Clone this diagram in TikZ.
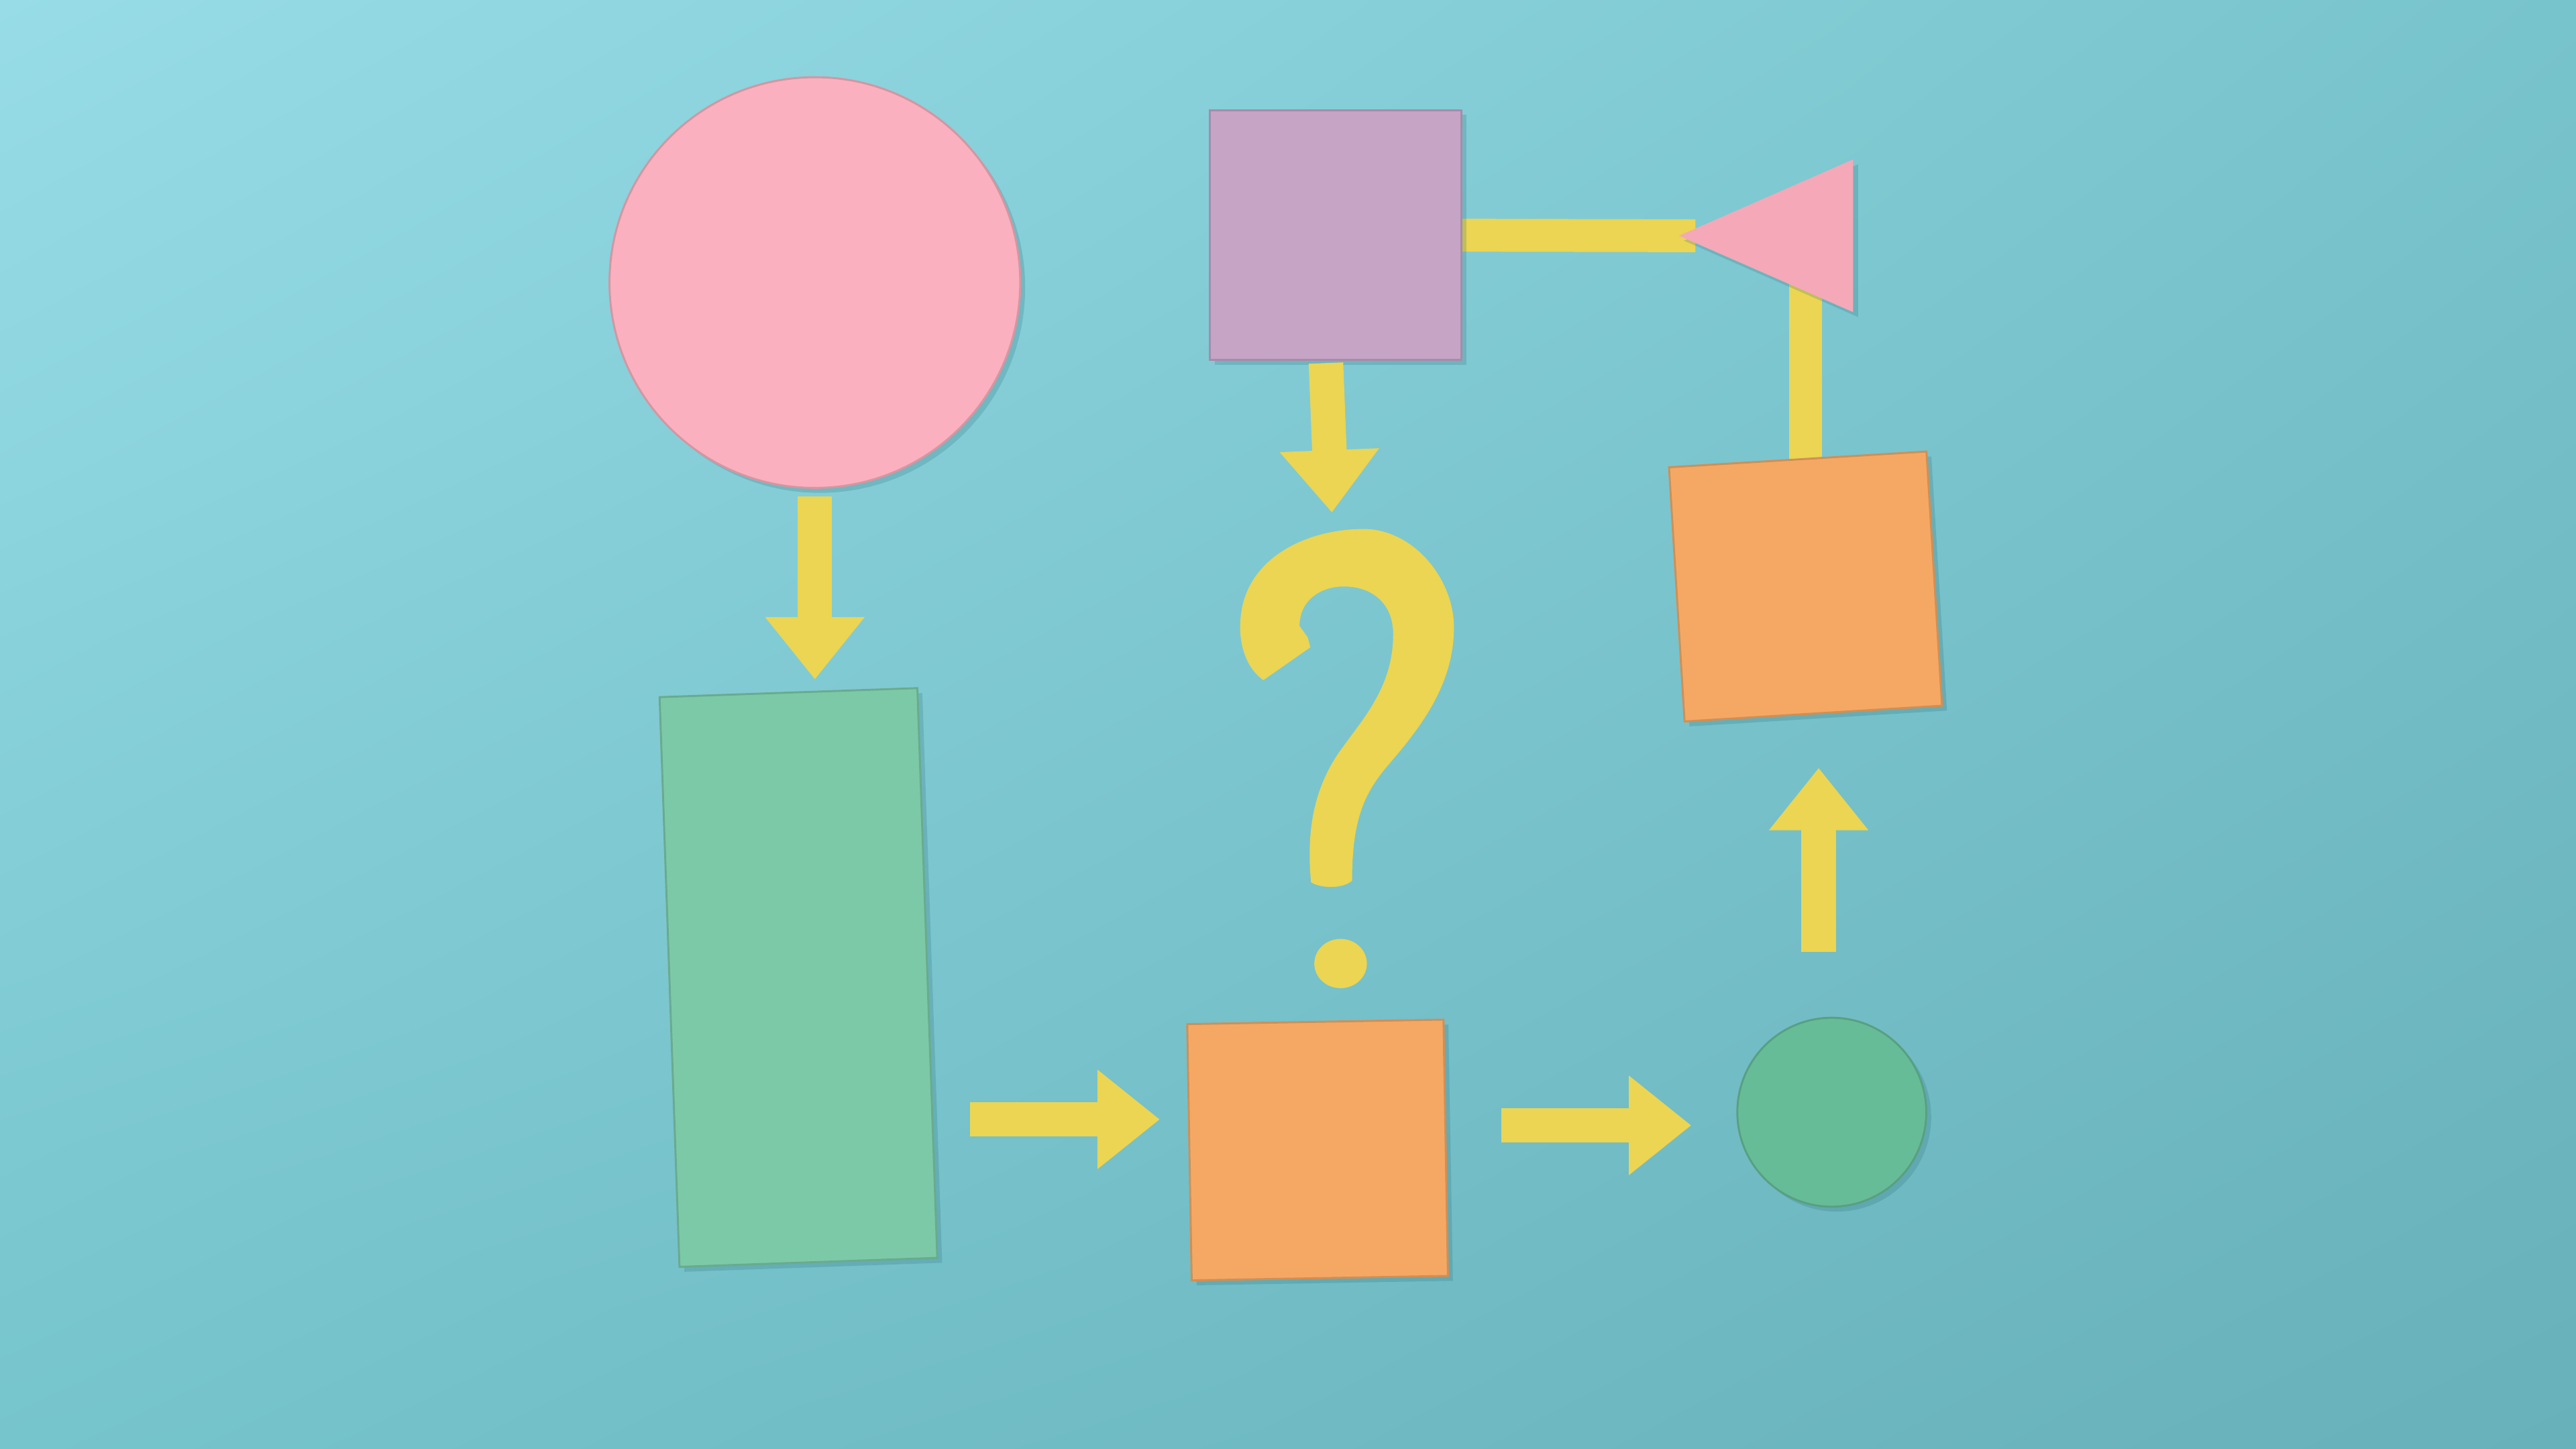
\documentclass[tikz,border=0pt]{standalone}
\usetikzlibrary{arrows.meta,shadows,shadings}
\pgfdeclarelayer{back}
\pgfdeclarelayer{mid}
\pgfsetlayers{back,mid,main}
\definecolor{bgTL}{RGB}{151,220,231}
\definecolor{bgTR}{RGB}{120,196,204}
\definecolor{bgBL}{RGB}{118,196,204}
\definecolor{bgBR}{RGB}{104,176,186}
\definecolor{paperY}{RGB}{235,213,82}
\definecolor{pinkC}{RGB}{250,176,190}
\definecolor{pinkT}{RGB}{244,168,184}
\definecolor{lilac}{RGB}{197,164,198}
\definecolor{orangeP}{RGB}{245,168,100}
\definecolor{greenR}{RGB}{124,201,167}
\definecolor{greenC}{RGB}{103,188,152}
\definecolor{shadowc}{RGB}{40,110,120}
\tikzset{
  softshadow/.style={drop shadow={shadow xshift=3pt, shadow yshift=-3pt, opacity=0.22, fill=shadowc}},
  paper/.style={inner sep=0pt, outer sep=0pt, fill=#1, draw=#1!85!black, line width=1.2pt, softshadow},
  conn/.style={draw=paperY, line width=21pt, -{Triangle[width=58pt, length=38pt]}},
  bar/.style={draw=paperY, line width=20pt}
}
\begin{document}
\begin{tikzpicture}[x=1pt,y=-1pt]
\useasboundingbox (0,0) rectangle (1568,882);
\begin{pgfonlayer}{back}
\shade[upper left=bgTL, upper right=bgTR, lower left=bgBL, lower right=bgBR] (0,0) rectangle (1568,882);
\end{pgfonlayer}

% shapes
\node[paper=pinkC, circle, minimum size=250pt] (start) at (496,172) {};
\node[paper=lilac, rectangle, minimum width=153pt, minimum height=152pt] (proc) at (813,143) {};
\node[paper=greenR, rectangle, minimum width=157pt, minimum height=347pt, rotate=2] (grect) at (486,595) {};
\node[paper=orangeP, rectangle, minimum width=156pt, minimum height=156pt, rotate=1] (borange) at (802,700) {};
\node[paper=orangeP, rectangle, minimum width=157pt, minimum height=155pt, rotate=3.5] (torange) at (1099,357) {};
\node[paper=greenC, circle, minimum size=115pt] (end) at (1115,677) {};
\node[inner sep=0pt, outer sep=0pt, minimum width=106pt, minimum height=93pt] (tri) at (1075,143.5) {};
\fill[pinkT, softshadow] (tri.west) -- (tri.north east) -- (tri.south east) -- cycle;

% question mark (paper cut-out)
\node[inner sep=0pt, outer sep=0pt, minimum width=132pt, minimum height=283pt] (qm) at (819,461.5) {};
\fill[paperY]
  (769,414) .. controls (759,407) and (754,393) .. (755,378)
  .. controls (757,340) and (795,322) .. (830,322)
  .. controls (860,322) and (885,352) .. (885,382)
  .. controls (885,420) and (860,448) .. (843,468)
  .. controls (830,484) and (823,500) .. (823,536)
  .. controls (818,541) and (804,541) .. (798,537)
  .. controls (795,505) and (800,480) .. (815,458)
  .. controls (830,437) and (848,418) .. (848,386)
  .. controls (848,368) and (836,357) .. (818,357)
  .. controls (803,357) and (791,366) .. (791,381)
  -- (796,388) -- (797.6,394) -- cycle;
\fill[paperY] (816,586.5) ellipse [x radius=16pt, y radius=15pt];

% plain bars (under the shapes)
\begin{pgfonlayer}{mid}
\draw[bar] (proc.center) -- ([xshift=10pt]tri.west);
\draw[bar] (torange.center) -- (torange.center |- tri.center);
\end{pgfonlayer}

% arrows
\draw[conn, shorten <=5pt, shorten >=8pt] (start.south) -- (start.south |- grect.north);
\draw[conn, shorten <=2pt, shorten >=8pt] ([xshift=-6pt]proc.south) -- ([xshift=-8pt]qm.north);
\coordinate (c3) at ([yshift=20pt]borange.west);
\draw[conn, shorten <=26pt, shorten >=18pt] (grect.east |- c3) -- (c3);
\coordinate (c4) at ([yshift=-8pt]end.west);
\draw[conn, shorten <=34pt, shorten >=28pt] (borange.east |- c4) -- (c4);
\coordinate (c5) at ([xshift=-8pt]end.north);
\draw[conn, shorten <=40pt, shorten >=33pt] (c5) -- (c5 |- torange.south);
\end{tikzpicture}
\end{document}
